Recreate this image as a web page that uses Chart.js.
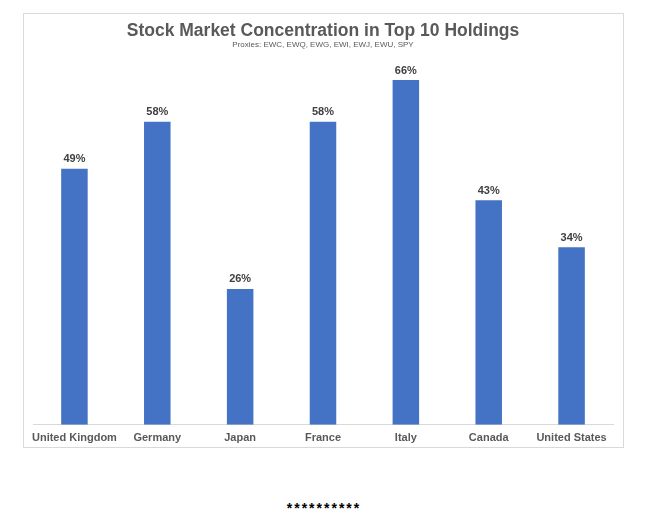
<!DOCTYPE html>
<html>
<head>
<meta charset="utf-8">
<script src="https://cdn.jsdelivr.net/npm/chart.js@4.4.1/dist/chart.umd.min.js"></script>
<style>
  html, body { margin: 0; padding: 0; background: #fff; width: 652px; height: 525px; overflow: hidden; position: relative; }
  #box { position: absolute; left: 23px; top: 13px; width: 599px; height: 433px; border: 1px solid #d9d9d9; }
  #c { position: absolute; left: 24px; top: 14px; display: block; }
  #stars { position: absolute; left: 0; width: 648px; top: 500px; text-align: center; font: bold 14px "Liberation Sans", Arial, sans-serif; letter-spacing: 2px; color: #000; }
</style>
</head>
<body>
<div id="box"></div>
<canvas id="c" width="599" height="438"></canvas>
<div id="stars">**********</div>
<script>
const categories = ["United Kingdom", "Germany", "Japan", "France", "Italy", "Canada", "United States"];
const concentration = [49, 58, 26, 58, 66, 43, 34];
const titleText = "Stock Market Concentration in Top 10 Holdings";
const subtitleText = "Proxies: EWC, EWQ, EWG, EWI, EWJ, EWU, SPY";

const FONT = "'Liberation Sans', Arial, sans-serif";

const valueLabels = {
  id: 'valueLabels',
  afterDatasetsDraw(chart) {
    const ctx = chart.ctx;
    const meta = chart.getDatasetMeta(0);
    ctx.save();
    ctx.font = "bold 11px " + FONT;
    ctx.fillStyle = "#404040";
    ctx.textAlign = "center";
    ctx.textBaseline = "bottom";
    meta.data.forEach((bar, i) => {
      ctx.fillText(concentration[i] + "%", bar.x, bar.y - 4);
    });
    ctx.restore();
  }
};

new Chart(document.getElementById('c'), {
  type: 'bar',
  data: {
    labels: categories,
    datasets: [{
      data: concentration,
      backgroundColor: '#4472C4',
      borderWidth: 0,
      barPercentage: 0.64,
      categoryPercentage: 0.5
    }]
  },
  options: {
    responsive: false,
    animation: false,
    devicePixelRatio: 1,
    layout: { padding: { left: 9, right: 10, top: 0, bottom: 0 } },
    plugins: {
      legend: { display: false },
      tooltip: { enabled: false },
      title: {
        display: true,
        text: titleText,
        color: '#595959',
        font: { family: FONT, size: 17.5, weight: 'bold', lineHeight: 1.0 },
        padding: { top: 8, bottom: 0 }
      },
      subtitle: {
        display: true,
        text: subtitleText,
        color: '#595959',
        font: { family: FONT, size: 8, weight: 'normal', lineHeight: 1.2 },
        padding: { top: 0, bottom: 10 }
      }
    },
    scales: {
      x: {
        grid: { display: false, drawTicks: false },
        border: { display: true, color: '#d9d9d9', width: 1 },
        ticks: {
          color: '#595959',
          font: { family: FONT, size: 11, weight: 'bold' },
          padding: 7,
          maxRotation: 0,
          autoSkip: false
        }
      },
      y: {
        display: false,
        min: 0,
        max: 70
      }
    }
  },
  plugins: [valueLabels]
});
</script>
</body>
</html>
